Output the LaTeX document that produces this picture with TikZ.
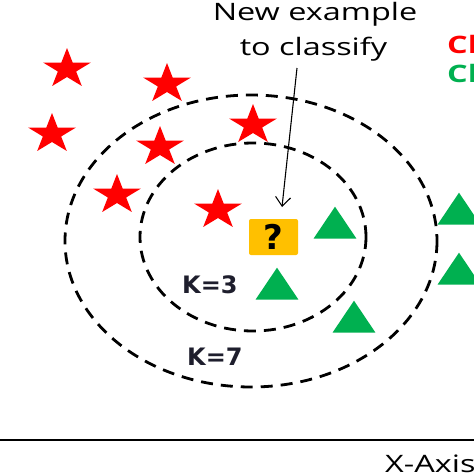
\documentclass[tikz,border=0pt]{standalone}
\usepackage{fontspec}
\usetikzlibrary{shapes.geometric,arrows.meta}
\newfontfamily\titlefont[FakeStretch=1.35]{Open Sans}
\newfontfamily\kfont{DejaVu Sans}
\definecolor{starred}{RGB}{255,0,0}
\definecolor{trigreen}{RGB}{0,176,80}
\definecolor{qgold}{RGB}{255,192,0}
\definecolor{ktext}{RGB}{30,30,45}
\begin{document}
\begin{tikzpicture}[x=1pt,y=-1pt,
  redstar/.style={star, star points=5, star point ratio=2.618, fill=starred, draw=none, minimum size=42pt, inner sep=0pt, xscale=1.2},
  greentri/.style={regular polygon, regular polygon sides=3, fill=trigreen, draw=none, minimum size=42.6pt, inner sep=0pt, xscale=1.165},
  kring/.style={draw=black, line width=2.8pt, dash pattern=on 12pt off 8pt},
  titletext/.style={anchor=base, inner sep=0pt, font=\titlefont\fontsize{24}{28}\selectfont},
  classtext/.style={anchor=base west, inner sep=0pt, font=\titlefont\bfseries\fontsize{24}{28}\selectfont},
  klabel/.style={anchor=base west, inner sep=0pt, text=ktext, font=\kfont\bfseries\fontsize{24}{26}\selectfont},
  qbox/.style={fill=qgold, rounded corners=2pt, minimum width=49pt, minimum height=36pt, inner sep=0pt, font=\kfont\bfseries\fontsize{34}{34}\selectfont},
  pointer/.style={line width=1.1pt, -{Straight Barb[length=9pt,width=15pt]}}]
\useasboundingbox (0,0) rectangle (474,474);
\fill[white] (0,0) rectangle (474,474);
\clip (0,0) rectangle (474,474);

% neighbourhoods
\draw[kring] (251,241) ellipse [x radius=186, y radius=146];
\draw[kring] (253,237) ellipse [x radius=113, y radius=94];

% class A (stars)
\node[redstar] (s1) at (67,69) {};
\node[redstar] (s2) at (167,84) {};
\node[redstar] (s3) at (52,134) {};
\node[redstar] (s4) at (160,147) {};
\node[redstar] (s5) at (253,125) {};
\node[redstar] (s6) at (117,195) {};
\node[redstar] (s7) at (218,210) {};

% class B (triangles)
\node[greentri] (t1) at (335,228) {};
\node[greentri] (t2) at (277,289) {};
\node[greentri] (t3) at (354,322) {};
\node[greentri] (t4) at (459,214) {};
\node[greentri] (t5) at (459,274) {};

% new example
\node[qbox] (q) at (273.5,237) {?};

% labels
\node[titletext] (title1) at (315,20) {New example};
\node[titletext] (title2) at (313.5,55) {to classify};
\coordinate (arrstart) at (297,68);
\coordinate (arrend) at (282,207);
\draw[pointer] (arrstart) -- (arrend);

\node[klabel] (k3) at (182,293) {K=3};
\node[klabel] (k7) at (187,365) {K=7};

\node[classtext, text=starred] (ca) at (447,53) {Cl};
\node[classtext, text=trigreen] (cb) at (447,82) {Cl};

% axis
\coordinate (axl) at (0,440);
\coordinate (axr) at (474,440);
\draw[line width=2.6pt] (axl) -- (axr);
\node[titletext, anchor=base west] (xlab) at (385,472) {X-Axis};
\end{tikzpicture}
\end{document}
